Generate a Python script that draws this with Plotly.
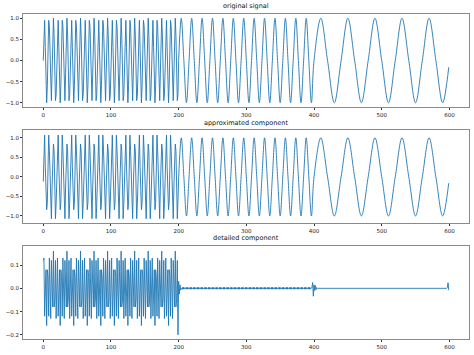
import plotly.graph_objects as go
from plotly.subplots import make_subplots

# ---------------- data ----------------
# samples 0..200 of the first (fast) segment, one value per sample
original_seg1 = [
    0.0, 0.81, 0.95, 0.31, -0.59, -1.0, -0.59, 0.31, 0.95, 0.81, 0.0, -0.81, -0.95, -0.31, 0.59, 1.0, 0.59, -0.31, -0.95, -0.81,
    0.0, 0.81, 0.95, 0.31, -0.59, -1.0, -0.59, 0.31, 0.95, 0.81, 0.0, -0.81, -0.95, -0.31, 0.59, 1.0, 0.59, -0.31, -0.95, -0.81,
    0.0, 0.81, 0.95, 0.31, -0.59, -1.0, -0.59, 0.31, 0.95, 0.81, 0.0, -0.81, -0.95, -0.31, 0.59, 1.0, 0.59, -0.31, -0.95, -0.81,
    0.0, 0.81, 0.95, 0.31, -0.59, -1.0, -0.59, 0.31, 0.95, 0.81, 0.0, -0.81, -0.95, -0.31, 0.59, 1.0, 0.59, -0.31, -0.95, -0.81,
    0.0, 0.81, 0.95, 0.31, -0.59, -1.0, -0.59, 0.31, 0.95, 0.81, 0.0, -0.81, -0.95, -0.31, 0.59, 1.0, 0.59, -0.31, -0.95, -0.81,
    0.0, 0.81, 0.95, 0.31, -0.59, -1.0, -0.59, 0.31, 0.95, 0.81, 0.0, -0.81, -0.95, -0.31, 0.59, 1.0, 0.59, -0.31, -0.95, -0.81,
    0.0, 0.81, 0.95, 0.31, -0.59, -1.0, -0.59, 0.31, 0.95, 0.81, 0.0, -0.81, -0.95, -0.31, 0.59, 1.0, 0.59, -0.31, -0.95, -0.81,
    0.0, 0.81, 0.95, 0.31, -0.59, -1.0, -0.59, 0.31, 0.95, 0.81, 0.0, -0.81, -0.95, -0.31, 0.59, 1.0, 0.59, -0.31, -0.95, -0.81,
    0.0, 0.81, 0.95, 0.31, -0.59, -1.0, -0.59, 0.31, 0.95, 0.81, 0.0, -0.81, -0.95, -0.31, 0.59, 1.0, 0.59, -0.31, -0.95, -0.81,
    0.0, 0.81, 0.95, 0.31, -0.59, -1.0, -0.59, 0.31, 0.95, 0.81, 0.0, -0.81, -0.95, -0.31, 0.59, 1.0, 0.59, -0.31, -0.95, -0.81,
    0.0,
]

approx_seg1 = [
    -0.12, 0.68, 1.07, 0.26, -0.66, -0.84, -0.66, 0.26, 1.07, 0.68, 0.0, -0.68, -1.07, -0.26, 0.66, 0.84, 0.66, -0.26, -1.07, -0.68,
    0.0, 0.68, 1.07, 0.26, -0.66, -0.84, -0.66, 0.26, 1.07, 0.68, 0.0, -0.68, -1.07, -0.26, 0.66, 0.84, 0.66, -0.26, -1.07, -0.68,
    0.0, 0.68, 1.07, 0.26, -0.66, -0.84, -0.66, 0.26, 1.07, 0.68, 0.0, -0.68, -1.07, -0.26, 0.66, 0.84, 0.66, -0.26, -1.07, -0.68,
    0.0, 0.68, 1.07, 0.26, -0.66, -0.84, -0.66, 0.26, 1.07, 0.68, 0.0, -0.68, -1.07, -0.26, 0.66, 0.84, 0.66, -0.26, -1.07, -0.68,
    0.0, 0.68, 1.07, 0.26, -0.66, -0.84, -0.66, 0.26, 1.07, 0.68, 0.0, -0.68, -1.07, -0.26, 0.66, 0.84, 0.66, -0.26, -1.07, -0.68,
    0.0, 0.68, 1.07, 0.26, -0.66, -0.84, -0.66, 0.26, 1.07, 0.68, 0.0, -0.68, -1.07, -0.26, 0.66, 0.84, 0.66, -0.26, -1.07, -0.68,
    0.0, 0.68, 1.07, 0.26, -0.66, -0.84, -0.66, 0.26, 1.07, 0.68, 0.0, -0.68, -1.07, -0.26, 0.66, 0.84, 0.66, -0.26, -1.07, -0.68,
    0.0, 0.68, 1.07, 0.26, -0.66, -0.84, -0.66, 0.26, 1.07, 0.68, 0.0, -0.68, -1.07, -0.26, 0.66, 0.84, 0.66, -0.26, -1.07, -0.68,
    0.0, 0.68, 1.07, 0.26, -0.66, -0.84, -0.66, 0.26, 1.07, 0.68, 0.0, -0.68, -1.07, -0.26, 0.66, 0.84, 0.66, -0.26, -1.07, -0.68,
    0.0, 0.68, 1.07, 0.26, -0.66, -0.84, -0.66, 0.26, 1.07, 0.68, 0.0, -0.68, -1.07, -0.26, 0.66, 0.84, 0.66, -0.26, -1.07, -0.61,
    -0.03,
]

detail_seg1 = [
    0.12, 0.13, -0.12, 0.05, 0.08, -0.16, 0.08, 0.05, -0.12, 0.13, 0.0, -0.13, 0.12, -0.05, -0.08, 0.16, -0.08, -0.05, 0.12, -0.13,
    0.0, 0.13, -0.12, 0.05, 0.08, -0.16, 0.08, 0.05, -0.12, 0.13, 0.0, -0.13, 0.12, -0.05, -0.08, 0.16, -0.08, -0.05, 0.12, -0.13,
    0.0, 0.13, -0.12, 0.05, 0.08, -0.16, 0.08, 0.05, -0.12, 0.13, 0.0, -0.13, 0.12, -0.05, -0.08, 0.16, -0.08, -0.05, 0.12, -0.13,
    0.0, 0.13, -0.12, 0.05, 0.08, -0.16, 0.08, 0.05, -0.12, 0.13, 0.0, -0.13, 0.12, -0.05, -0.08, 0.16, -0.08, -0.05, 0.12, -0.13,
    0.0, 0.13, -0.12, 0.05, 0.08, -0.16, 0.08, 0.05, -0.12, 0.13, 0.0, -0.13, 0.12, -0.05, -0.08, 0.16, -0.08, -0.05, 0.12, -0.13,
    0.0, 0.13, -0.12, 0.05, 0.08, -0.16, 0.08, 0.05, -0.12, 0.13, 0.0, -0.13, 0.12, -0.05, -0.08, 0.16, -0.08, -0.05, 0.12, -0.13,
    0.0, 0.13, -0.12, 0.05, 0.08, -0.16, 0.08, 0.05, -0.12, 0.13, 0.0, -0.13, 0.12, -0.05, -0.08, 0.16, -0.08, -0.05, 0.12, -0.13,
    0.0, 0.13, -0.12, 0.05, 0.08, -0.16, 0.08, 0.05, -0.12, 0.13, 0.0, -0.13, 0.12, -0.05, -0.08, 0.16, -0.08, -0.05, 0.12, -0.13,
    0.0, 0.13, -0.12, 0.05, 0.08, -0.16, 0.08, 0.05, -0.12, 0.13, 0.0, -0.13, 0.12, -0.05, -0.08, 0.16, -0.08, -0.05, 0.12, -0.13,
    0.0, 0.13, -0.12, 0.05, 0.08, -0.16, 0.08, 0.05, -0.12, 0.13, 0.0, -0.13, 0.12, -0.05, -0.08, 0.16, -0.08, -0.05, 0.12, -0.2,
    0.03,
]

# slower segments (200..599): zero crossings and extrema
slow_x = [
    200.0, 203.85, 207.69, 211.54, 215.38, 219.23, 223.08, 226.92, 230.77, 234.62, 238.46, 242.31, 246.15,
    250.0, 253.85, 257.69, 261.54, 265.38, 269.23, 273.08, 276.92, 280.77, 284.62, 288.46, 292.31, 296.15,
    300.0, 303.85, 307.69, 311.54, 315.38, 319.23, 323.08, 326.92, 330.77, 334.62, 338.46, 342.31, 346.15,
    350.0, 353.85, 357.69, 361.54, 365.38, 369.23, 373.08, 376.92, 380.77, 384.62, 388.46, 392.31, 396.15,
    400.0, 410, 420, 430, 440, 450, 460, 470, 480, 490, 500, 510, 520, 530, 540, 550, 560, 570, 580, 590, 599,
]
original_slow = [
    0.0, 1.0, 0.0, -1.0, 0.0, 1.0, 0.0, -1.0, 0.0, 1.0, 0.0, -1.0, 0.0,
    1.0, 0.0, -1.0, 0.0, 1.0, 0.0, -1.0, 0.0, 1.0, 0.0, -1.0, 0.0, 1.0,
    0.0, -1.0, 0.0, 1.0, 0.0, -1.0, 0.0, 1.0, 0.0, -1.0, 0.0, 1.0, 0.0,
    -1.0, 0.0, 1.0, 0.0, -1.0, 0.0, 1.0, 0.0, -1.0, 0.0, 1.0, 0.0, -1.0,
    0.0, 1.0, 0.0, -1.0, 0.0, 1.0, 0.0, -1.0, 0.0, 1.0, 0.0, -1.0, 0.0, 1.0, 0.0, -1.0, 0.0, 1.0, 0.0, -1.0, -0.16,
]
approx_slow = [
    -0.03, 1.0, 0.0, -1.0, 0.0, 1.0, 0.0, -1.0, 0.0, 1.0, 0.0, -1.0, 0.0,
    1.0, 0.0, -1.0, 0.0, 1.0, 0.0, -1.0, 0.0, 1.0, 0.0, -1.0, 0.0, 1.0,
    0.0, -1.0, 0.0, 1.0, 0.0, -1.0, 0.0, 1.0, 0.0, -1.0, 0.0, 1.0, 0.0,
    -1.0, 0.0, 1.0, 0.0, -1.0, 0.0, 1.0, 0.0, -1.0, 0.0, 1.0, 0.0, -1.0,
    0.0, 1.0, 0.0, -1.0, 0.0, 1.0, 0.0, -1.0, 0.0, 1.0, 0.0, -1.0, 0.0, 1.0, 0.0, -1.0, 0.0, 1.0, 0.0, -1.0, -0.16,
]

# detail after the fast segment: nearly flat with small bursts at 200, 400 and 600
detail_rest_x = [201, 202, 203, 204, 396, 397, 398, 399, 400, 401, 402, 403, 404, 405, 596, 597, 598, 599]
detail_rest_y = [-0.025, 0.015, -0.008, 0.0, 0.0, 0.005, 0.025, -0.034, 0.015, -0.01, 0.012, -0.006, 0.003, 0.0, 0.0, 0.004, 0.024, -0.008]
# tiny ripple between 205 and 395 (looks dashed)
ripple_x = [205, 395]
ripple_y = [0.0, 0.0]

titles = ["original signal", "approximated component", "detailed component"]
x_ticks = [0, 100, 200, 300, 400, 500, 600]
y_ticks = [[-1.0, -0.5, 0.0, 0.5, 1.0], [-1.0, -0.5, 0.0, 0.5, 1.0], [-0.2, -0.1, 0.0, 0.1]]

# ---------------- figure ----------------
C0 = "#1f77b4"
LW = 0.9

fig = make_subplots(rows=3, cols=1)

fast_x = list(range(len(original_seg1)))

fig.add_trace(go.Scatter(x=fast_x, y=original_seg1, mode="lines", line=dict(color=C0, width=LW)), row=1, col=1)
fig.add_trace(go.Scatter(x=slow_x, y=original_slow, mode="lines", line=dict(color=C0, width=LW, shape="spline")), row=1, col=1)

fig.add_trace(go.Scatter(x=fast_x, y=approx_seg1, mode="lines", line=dict(color=C0, width=LW)), row=2, col=1)
fig.add_trace(go.Scatter(x=slow_x, y=approx_slow, mode="lines", line=dict(color=C0, width=LW, shape="spline")), row=2, col=1)

fig.add_trace(go.Scatter(x=fast_x + detail_rest_x, y=detail_seg1 + detail_rest_y, mode="lines",
                         line=dict(color=C0, width=LW)), row=3, col=1)
fig.add_trace(go.Scatter(x=ripple_x, y=ripple_y, mode="lines",
                         line=dict(color=C0, width=2.0, dash="2.5px,1.2px")), row=3, col=1)

W, H = 474, 355
ml, mr, mt, mb = 23, 5, 14, 16
ph = H - mt - mb
# plot-area pixel rows from the reference (top, bottom)
rows_px = [(14, 107), (130, 223), (246, 339)]
domains = [[(H - mb - b) / ph, (H - mb - t) / ph] for t, b in rows_px]
yranges = [[-1.1, 1.1], [-1.18, 1.2], [-0.218, 0.182]]

axis_common = dict(
    showline=True, mirror=True, linecolor="#8a8a8a", linewidth=0.8,
    ticks="outside", ticklen=2, tickwidth=0.6, tickcolor="#333",
    tickfont=dict(family="DejaVu Sans", size=5.5, color="#222"),
    showgrid=False, zeroline=False,
)

layout = dict(
    width=W, height=H,
    margin=dict(l=ml, r=mr, t=mt, b=mb, pad=0),
    paper_bgcolor="white", plot_bgcolor="white",
    showlegend=False,
    annotations=[],
)
for i in range(3):
    sfx = "" if i == 0 else str(i + 1)
    layout["xaxis" + sfx] = dict(axis_common, range=[-29.95, 628.95], tickvals=x_ticks,
                                 domain=[0, 1], anchor="y" + sfx)
    layout["yaxis" + sfx] = dict(axis_common, range=yranges[i], tickvals=y_ticks[i], tickformat=".1f",
                                 domain=domains[i], anchor="x" + sfx)
    layout["annotations"].append(dict(
        text=titles[i], xref="paper", yref="paper", x=0.5, y=domains[i][1],
        xanchor="center", yanchor="bottom", yshift=1.5, showarrow=False,
        font=dict(family="DejaVu Sans", size=6.5, color="#111"),
    ))

fig.update_layout(**layout)
fig.write_html("out.html")
